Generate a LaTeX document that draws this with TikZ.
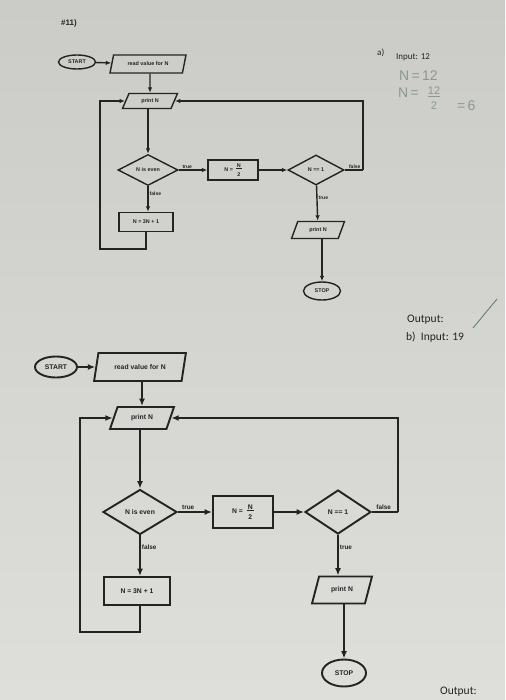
\documentclass[tikz,border=0pt]{standalone}
\usepackage{fontspec}
\setmainfont{Liberation Sans}
\newfontfamily\notefont{Carlito}
\usetikzlibrary{shapes.geometric,arrows.meta}
\definecolor{ink}{RGB}{35,35,35}
\definecolor{paperA}{RGB}{203,203,200}
\definecolor{paperB}{RGB}{222,222,219}
\definecolor{pen}{RGB}{140,152,144}
\definecolor{tick}{RGB}{95,130,105}
\newcommand{\halfN}{$\vcenter{\hbox{\shortstack{\underline{\,N\,}\\[0.5pt]2}}}$}
\tikzset{
  sm/.style={font=\fontsize{5.4}{6}\selectfont\bfseries, text=ink},
  bg/.style={font=\fontsize{6.8}{8}\selectfont\bfseries, text=ink},
  thin/.style={draw=ink, line width=1.4pt},
  thick/.style={draw=ink, line width=1.9pt},
  term/.style={ellipse, inner sep=0pt},
  iobox/.style={trapezium, trapezium left angle=62, trapezium right angle=118, trapezium stretches=true, inner sep=0pt},
  dec/.style={diamond, inner sep=0pt},
  proc/.style={rectangle, inner sep=0pt},
  arrs/.style={draw=ink, line width=1.4pt, -{Latex[length=5.5pt,width=4.5pt]}},
  arrb/.style={draw=ink, line width=1.9pt, -{Latex[length=7.5pt,width=6pt]}},
  lnks/.style={draw=ink, line width=1.4pt},
  lnkb/.style={draw=ink, line width=1.9pt},
  lbls/.style={font=\fontsize{5}{6}\selectfont\bfseries, text=ink, inner sep=1pt},
  lblb/.style={font=\fontsize{6.4}{7}\selectfont\bfseries, text=ink, inner sep=1pt},
  note/.style={font=\notefont\fontsize{9}{10}\selectfont, text=ink, inner sep=0pt},
  bignote/.style={font=\notefont\fontsize{11.5}{13}\selectfont, text=ink, inner sep=0pt},
  hand/.style={font=\fontsize{14}{15}\selectfont, text=pen, inner sep=0pt}
}
\begin{document}
\begin{tikzpicture}[x=1pt,y=-1pt]
\useasboundingbox (0,0) rectangle (505,700);
\shade[top color=paperA, bottom color=paperB] (0,0) rectangle (505,700);

% header
\node[font=\fontsize{8}{9}\selectfont\bfseries, text=ink] (hdr) at (69,23) {\#11)};

% ---------- top flowchart ----------
\node[term, thin, sm, minimum width=37, minimum height=14] (s1) at (77,62) {START};
\node[iobox, thin, sm, minimum width=76, minimum height=18] (r1) at (148,64) {read value for N};
\node[iobox, thin, sm, minimum width=55, minimum height=15] (p1) at (150,101) {print N};
\node[dec, thin, sm, minimum width=60, minimum height=31] (d1) at (148,170) {N is even};
\node[proc, thin, sm, minimum width=50, minimum height=20] (h1) at (233,170) {N = \ \halfN};
\node[dec, thin, sm, minimum width=56, minimum height=30] (e1) at (316,170) {N == 1};
\node[iobox, thin, sm, minimum width=53, minimum height=17] (q1) at (318,230) {print N};
\node[term, thin, sm, minimum width=37, minimum height=18] (t1) at (322,291) {STOP};
\node[proc, thin, sm, minimum width=54, minimum height=19] (m1) at (146,222) {N = 3N + 1};
\coordinate (lb1) at (100,249);
\coordinate (rt1) at (363,101);

\draw[arrs] (s1) -- (r1);
\draw[arrs] (r1.south -| p1) -- (p1);
\draw[arrs] (p1.south -| d1) -- (d1);
\draw[arrs] (d1) -- node[lbls, above, pos=0.3] {true} (h1);
\draw[arrs] (h1.east) -- (e1.west);
\draw[arrs] (e1) -- node[lbls, right, pos=0.35] {true} (q1);
\draw[arrs] (q1.south -| t1) -- (t1);
\draw[arrs] (d1) -- node[lbls, right, pos=0.3] {false} (m1.north -| d1);
\draw[lnks] (e1.east) -- node[lbls, above, pos=0.55] {false} (e1.east -| rt1);
\draw[arrs] (e1.east -| rt1) -- (rt1) -- (p1.east);
\draw[arrs] (m1.south) |- (lb1) |- (p1.west);

% notes (a)
\node[note, anchor=west] (na) at (377,53) {a)};
\node[note, anchor=west] (nai) at (396,57) {Input: 12};
\node[hand, anchor=west] (hw1) at (399,76) {N\,=\,12};
\node[hand, anchor=west] (hw2) at (398,93) {N\,=};
\node[hand, anchor=center, font=\fontsize{11}{12}\selectfont] (hw3) at (434,98) {\shortstack{\underline{12}\\[2pt]2}};
\node[hand, anchor=west] (hw4) at (457,106) {=\,6};

% notes (b)
\node[bignote, anchor=west] (no1) at (407,320) {Output:};
\node[bignote, anchor=west] (nb) at (406,337) {b)\ \ Input: 19};
\coordinate (tk1) at (473,328);
\coordinate (tk2) at (497,299);
\draw[draw=tick, line width=0.9pt] (tk1) -- (tk2);

% ---------- bottom flowchart ----------
\node[term, thick, bg, minimum width=42, minimum height=21] (s2) at (56,367) {START};
\node[iobox, thick, bg, minimum width=92, minimum height=28] (r2) at (140,367) {read value for N};
\node[iobox, thick, bg, minimum width=64, minimum height=22] (p2) at (142,418) {print N};
\node[dec, thick, bg, minimum width=74, minimum height=45] (d2) at (140,512) {N is even};
\node[proc, thick, bg, minimum width=60, minimum height=32] (h2) at (243,512) {N = \ \halfN};
\node[dec, thick, bg, minimum width=66, minimum height=44] (e2) at (338,512) {N == 1};
\node[iobox, thick, bg, minimum width=60, minimum height=27] (q2) at (342,590) {print N};
\node[term, thick, bg, minimum width=44, minimum height=27] (t2) at (344,673) {STOP};
\node[proc, thick, bg, minimum width=66, minimum height=28] (m2) at (137,591) {N = 3N + 1};
\coordinate (lb2) at (80,632);
\coordinate (rt2) at (398,418);

\draw[arrb] (s2) -- (r2);
\draw[arrb] (r2.south -| p2) -- (p2);
\draw[arrb] (p2.south -| d2) -- (d2);
\draw[arrb] (d2) -- node[lblb, above, pos=0.3] {true} (h2);
\draw[arrb] (h2.east) -- (e2.west);
\draw[arrb] (e2) -- node[lblb, right, pos=0.3] {true} (q2.north -| e2);
\draw[arrb] (q2.south -| t2) -- (t2);
\draw[arrb] (d2) -- node[lblb, right, pos=0.3] {false} (m2.north -| d2);
\draw[lnkb] (e2.east) -- node[lblb, above, pos=0.45] {false} (e2.east -| rt2);
\draw[arrb] (e2.east -| rt2) -- (rt2) -- (p2.east);
\draw[arrb] (m2.south -| d2) |- (lb2) |- (p2.west);

\node[bignote, anchor=west] (no2) at (440,692) {Output:};
\end{tikzpicture}
\end{document}
